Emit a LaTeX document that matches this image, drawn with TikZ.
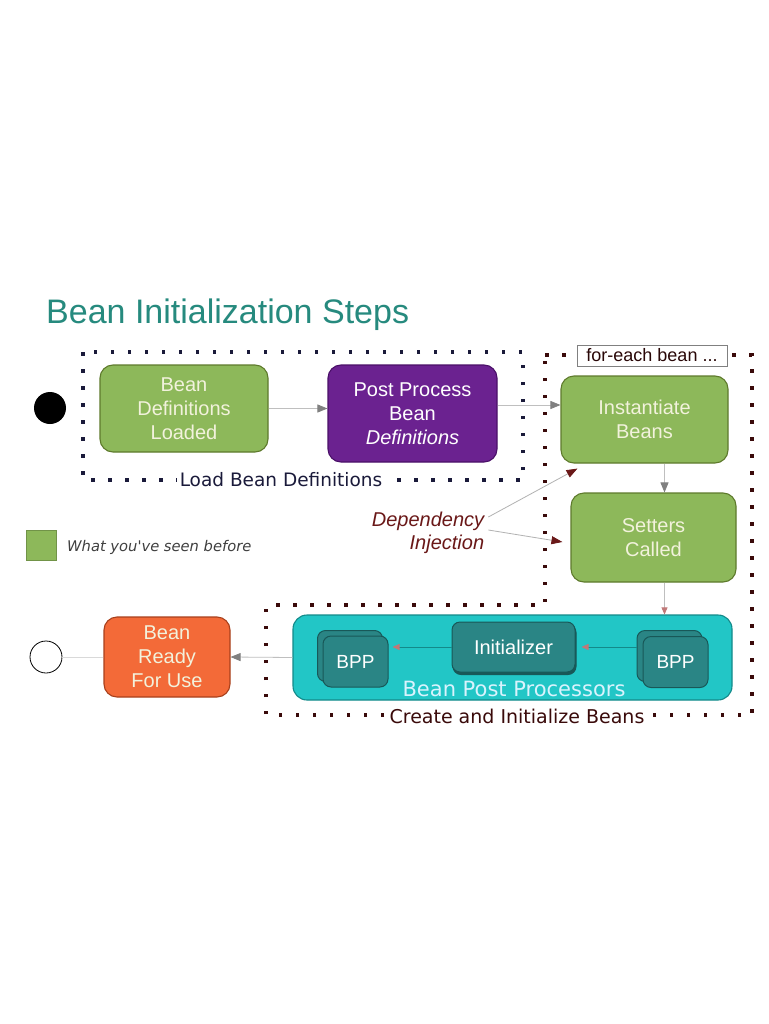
\documentclass[tikz,border=0pt]{standalone}
\usepackage{fontspec}
\setmainfont{Liberation Sans}
\newfontfamily\verd{DejaVu Sans}
\usetikzlibrary{arrows.meta}
\definecolor{titlec}{HTML}{268A7E}
\definecolor{greenf}{HTML}{8DB85A}
\definecolor{greend}{HTML}{5E7A2C}
\definecolor{purpf}{HTML}{6B2290}
\definecolor{purpd}{HTML}{4A1068}
\definecolor{orangef}{HTML}{F36A38}
\definecolor{oranged}{HTML}{A8401C}
\definecolor{cyanf}{HTML}{22C6C6}
\definecolor{cyand}{HTML}{138A8A}
\definecolor{tealf}{HTML}{2A8585}
\definecolor{teald}{HTML}{185858}
\definecolor{navyc}{HTML}{1A1A3A}
\definecolor{maroonc}{HTML}{3A0A0A}
\definecolor{depc}{HTML}{6A1818}
\definecolor{cream}{HTML}{F2F2DC}
\definecolor{pinkhead}{HTML}{C07878}
\tikzset{
  boxbase/.style={rounded corners=13pt, line width=1.1pt, align=center, inner sep=0pt,
    font=\fontsize{20}{24}\selectfont},
  greenbox/.style={boxbase, fill=greenf, draw=greend, text=cream},
  purplebox/.style={boxbase, fill=purpf, draw=purpd, text=white},
  orangebox/.style={boxbase, fill=orangef, draw=oranged, text=cream},
  tealbox/.style={rounded corners=8pt, line width=1pt, fill=tealf, draw=teald, text=white,
    inner sep=0pt, font=\fontsize{19}{22}\selectfont},
  dotnavy/.style={draw=navyc, line width=3.5pt, dash pattern=on 3.5pt off 13.5pt},
  dotmaroon/.style={draw=maroonc, line width=3.5pt, dash pattern=on 3.5pt off 13.5pt},
  grayarrow/.style={draw=black!25, line width=0.8pt, -{Triangle[length=10pt,width=8pt,color=black!50,fill=black!50]}},
  deparrow/.style={draw=black!30, line width=0.8pt, -{Triangle[length=11pt,width=8pt,color=depc,fill=depc]}},
  pinkarrow/.style={draw=cyand, line width=0.6pt, -{Triangle[length=7pt,width=6pt,color=pinkhead,fill=pinkhead]}},
}
\begin{document}
\begin{tikzpicture}[x=1pt,y=-1pt]
\useasboundingbox (0,0) rectangle (768,1024);
\fill[white] (0,0) rectangle (768,1024);

% title
\node[anchor=base west, inner sep=0pt, text=titlec, font=\fontsize{34}{40}\selectfont] (title) at (46,323) {Bean Initialization Steps};

% dotted regions
\draw[dotnavy] (83,352) rectangle (523,480);
\draw[dotmaroon] (545,355) -- (752,355) -- (752,715) -- (266,715) -- (266,605) -- (545,605) -- cycle;
\node[fill=white, inner sep=3pt, text=navyc, font=\verd\fontsize{18.5}{21}\selectfont] (lbd) at (281,480) {Load Bean Definitions};
\node[fill=white, inner sep=2pt, text=maroonc, font=\verd\fontsize{19}{21}\selectfont] (cib) at (517,716) {Create and Initialize Beans};
\node[fill=white, draw=black!50, line width=1pt, minimum width=150pt, minimum height=21pt, inner sep=0pt,
  text=maroonc!70!black, font=\fontsize{18}{20}\selectfont] (foreach) at (652,355.5) {for-each bean ...};

% start / end
\node[circle, fill=black, minimum size=32pt, inner sep=0pt] (start) at (50,408) {};
\node[circle, draw=black, line width=0.8pt, fill=white, minimum size=32pt, inner sep=0pt] (end) at (46,657) {};

% main boxes
\node[greenbox, minimum width=168pt, minimum height=87pt] (bdl) at (184,408.5) {Bean\\Definitions\\Loaded};
\node[purplebox, minimum width=169pt, minimum height=97pt] (ppbd) at (412.5,413.5) {Post Process\\Bean\\\textit{Definitions}};
\node[greenbox, minimum width=167pt, minimum height=87pt] (inst) at (644.5,419.5) {Instantiate\\Beans};
\node[greenbox, minimum width=165pt, minimum height=89pt] (setc) at (653.5,537.5) {Setters\\Called};
\node[orangebox, minimum width=126pt, minimum height=80pt] (ready) at (167,657) {Bean\\Ready\\For Use};

% bean post processors
\node[rounded corners=14pt, line width=1.1pt, fill=cyanf, draw=cyand, minimum width=439pt, minimum height=85pt] (bppbox) at (512.5,657.5) {};
\node[inner sep=0pt, text=cyan!15!white, font=\verd\fontsize{21}{23}\selectfont] (bpplabel) at (514,689) {Bean Post Processors};
\node[tealbox, minimum width=65pt, minimum height=51pt] (bpplback) at (350,656) {};
\node[tealbox, minimum width=65pt, minimum height=51pt] (bppl) at (355.5,661.5) {BPP};
\node[tealbox, minimum width=65pt, minimum height=51pt] (bpprback) at (669.5,656) {};
\node[tealbox, minimum width=65pt, minimum height=51pt] (bppr) at (675.5,662) {BPP};
\node[tealbox, fill=teald, draw=teald, minimum width=123pt, minimum height=50pt] (initsh) at (514.5,649.5) {};
\node[tealbox, minimum width=123pt, minimum height=50pt, font=\fontsize{20}{22}\selectfont] (init) at (513.5,647) {Initializer};

% legend
\node[fill=greenf, draw=greenf!80!black, line width=0.5pt, minimum size=30pt, inner sep=0pt] (legsq) at (41.5,545) {};
\node[anchor=west, inner sep=0pt, text=black!75, font=\verd\itshape\fontsize{14.7}{17}\selectfont] (legtxt) at (67,547) {What you've seen before};

% dependency injection
\node[align=right, inner sep=0pt, text=depc, font=\itshape\fontsize{20}{23}\selectfont] (dep) at (428,533) {Dependency\\Injection};

% connectors
\draw[grayarrow] (bdl.east) -- (ppbd.west |- bdl.east);
\draw[grayarrow] ([yshift=14.5pt]inst.west -| ppbd.east) -- ([yshift=14.5pt]inst.west);
\draw[grayarrow] ([xshift=20pt]inst.south) -- ([xshift=11pt]setc.north);
\draw[pinkarrow, draw=black!25] ([xshift=11pt]setc.south) -- ([xshift=11pt]setc.south |- bppbox.north);
\draw[pinkarrow] (bpprback.west |- init.east) -- ([xshift=6pt]init.east);
\draw[pinkarrow] (init.west) -- ([xshift=4pt]bppl.east |- init.west);
\draw[grayarrow] (bppbox.west) -- (ready.east);
\draw[draw=black!15, line width=0.8pt] (ready.west) -- (end.east);
\draw[deparrow] ([shift={(4pt,16pt)}]dep.east) -- ([shift={(17pt,-5pt)}]inst.south west);
\draw[deparrow] ([shift={(4pt,3pt)}]dep.east) -- ([shift={(-8pt,-4.5pt)}]setc.west);
\end{tikzpicture}
\end{document}
